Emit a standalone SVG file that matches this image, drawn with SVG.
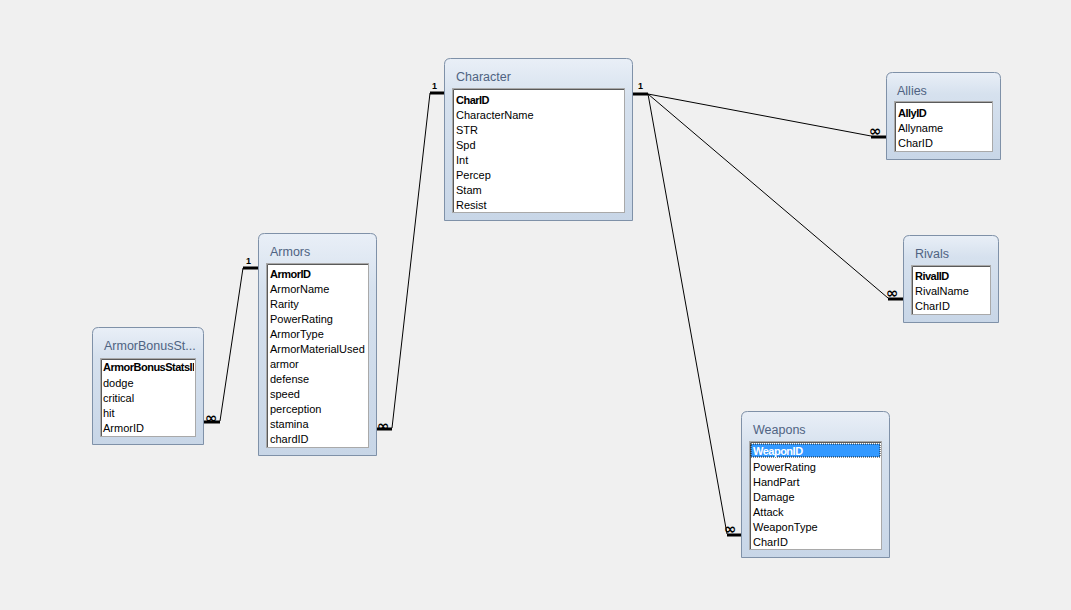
<svg xmlns="http://www.w3.org/2000/svg" width="1071" height="610" viewBox="0 0 1071 610">
<defs>
<linearGradient id="tg" x1="0" y1="0" x2="0" y2="1">
<stop offset="0" stop-color="#e9eff7"/>
<stop offset="0.25" stop-color="#d6e1ee"/>
<stop offset="1" stop-color="#c8d6e7"/>
</linearGradient>
<clipPath id="abclip"><rect x="100" y="358" width="94" height="78"/></clipPath>
</defs>
<style>
.bg{fill:#f0f0f0}
.box{fill:url(#tg);stroke:#7f91a8;stroke-width:1}
.list{fill:#ffffff;stroke:#a9a9a9;stroke-width:1}
.sunk{fill:none;stroke:#5a5a5a;stroke-width:1}
.title{font-family:"Liberation Sans",Arial,sans-serif;font-size:12.5px;fill:#4f6382}
.f{font-family:"Liberation Sans",Arial,sans-serif;font-size:11px;fill:#000}
.pk{font-weight:bold;letter-spacing:-0.5px}
.conn{stroke:#000;stroke-width:1;fill:none}
.stub{stroke:#000;stroke-width:3;fill:none}
.one{font-family:"Liberation Sans",Arial,sans-serif;font-size:9px;font-weight:bold;fill:#000}
.many{font-family:"DejaVu Sans",sans-serif;font-size:15px;font-weight:bold;fill:#000}
</style>
<rect class="bg" x="0" y="0" width="1071" height="610"/>

<g id="connectors">
<line class="conn" x1="430" y1="93" x2="392" y2="428"/>
<line class="stub" x1="430" y1="93" x2="444" y2="93"/>
<text class="one" x="432" y="89">1</text>
<line class="stub" x1="376" y1="429" x2="392" y2="429"/>
<text class="many" x="377" y="431">∞</text>

<line class="conn" x1="243" y1="268" x2="220" y2="421"/>
<line class="stub" x1="243" y1="268" x2="258" y2="268"/>
<text class="one" x="246" y="264">1</text>
<line class="stub" x1="203" y1="422" x2="220" y2="422"/>
<text class="many" x="205" y="423">∞</text>

<line class="stub" x1="632" y1="94" x2="648" y2="94"/>
<text class="one" x="638" y="89">1</text>
<line class="conn" x1="648" y1="94" x2="871" y2="136"/>
<line class="conn" x1="648" y1="94" x2="888" y2="298"/>
<line class="conn" x1="648" y1="94" x2="727" y2="534"/>
<line class="stub" x1="871" y1="137" x2="886" y2="137"/>
<text class="many" x="869" y="136">∞</text>
<line class="stub" x1="888" y1="299" x2="903" y2="299"/>
<text class="many" x="886" y="298">∞</text>
<line class="stub" x1="727" y1="535" x2="741" y2="535"/>
<text class="many" x="724" y="534">∞</text>
</g>

<g id="character">
<path class="box" d="M444.5,220.5 V64.5 Q444.5,58.5 450.5,58.5 H626.5 Q632.5,58.5 632.5,64.5 V220.5 Z"/>
<text class="title" x="456" y="81">Character</text>
<rect class="list" x="452.5" y="88.5" width="172" height="124"/>
<path class="sunk" d="M453.5,212 V89.5 H624"/>
<text class="f pk" x="456" y="104">CharID</text>
<text class="f" x="456" y="119">CharacterName</text>
<text class="f" x="456" y="134">STR</text>
<text class="f" x="456" y="149">Spd</text>
<text class="f" x="456" y="164">Int</text>
<text class="f" x="456" y="179">Percep</text>
<text class="f" x="456" y="194">Stam</text>
<text class="f" x="456" y="209">Resist</text>
</g>

<g id="allies">
<path class="box" d="M886.5,159.5 V78.5 Q886.5,72.5 892.5,72.5 H994.5 Q1000.5,72.5 1000.5,78.5 V159.5 Z"/>
<text class="title" x="897" y="95">Allies</text>
<rect class="list" x="894.5" y="101.5" width="98" height="50"/>
<path class="sunk" d="M895.5,151 V102.5 H992"/>
<text class="f pk" x="898" y="117">AllyID</text>
<text class="f" x="898" y="132">Allyname</text>
<text class="f" x="898" y="147">CharID</text>
</g>

<g id="rivals">
<path class="box" d="M903.5,322.5 V241.5 Q903.5,235.5 909.5,235.5 H992.5 Q998.5,235.5 998.5,241.5 V322.5 Z"/>
<text class="title" x="915" y="258">Rivals</text>
<rect class="list" x="911.5" y="265.5" width="79" height="49"/>
<path class="sunk" d="M912.5,314 V266.5 H990"/>
<text class="f pk" x="915" y="280">RivalID</text>
<text class="f" x="915" y="295">RivalName</text>
<text class="f" x="915" y="310">CharID</text>
</g>

<g id="weapons">
<path class="box" d="M741.5,557.5 V417.5 Q741.5,411.5 747.5,411.5 H883.5 Q889.5,411.5 889.5,417.5 V557.5 Z"/>
<text class="title" x="753" y="434">Weapons</text>
<rect class="list" x="749.5" y="441.5" width="132" height="108"/>
<path class="sunk" d="M750.5,549 V442.5 H881"/>
<rect x="751" y="444" width="129" height="13" fill="#3399ff" stroke="#1a1a1a" stroke-width="1" stroke-dasharray="1,1"/>
<text class="f pk" x="753" y="455" style="fill:#ffffff">WeaponID</text>
<text class="f" x="753" y="471">PowerRating</text>
<text class="f" x="753" y="486">HandPart</text>
<text class="f" x="753" y="501">Damage</text>
<text class="f" x="753" y="516">Attack</text>
<text class="f" x="753" y="531">WeaponType</text>
<text class="f" x="753" y="546">CharID</text>
</g>

<g id="armors">
<path class="box" d="M258.5,455.5 V239.5 Q258.5,233.5 264.5,233.5 H370.5 Q376.5,233.5 376.5,239.5 V455.5 Z"/>
<text class="title" x="270" y="256">Armors</text>
<rect class="list" x="266.5" y="263.5" width="102" height="184"/>
<path class="sunk" d="M267.5,447 V264.5 H368"/>
<text class="f pk" x="270" y="278">ArmorID</text>
<text class="f" x="270" y="293">ArmorName</text>
<text class="f" x="270" y="308">Rarity</text>
<text class="f" x="270" y="323">PowerRating</text>
<text class="f" x="270" y="338">ArmorType</text>
<text class="f" x="270" y="353">ArmorMaterialUsed</text>
<text class="f" x="270" y="368">armor</text>
<text class="f" x="270" y="383">defense</text>
<text class="f" x="270" y="398">speed</text>
<text class="f" x="270" y="413">perception</text>
<text class="f" x="270" y="428">stamina</text>
<text class="f" x="270" y="443">chardID</text>
</g>

<g id="armorbonusstats">
<path class="box" d="M92.5,444.5 V333.5 Q92.5,327.5 98.5,327.5 H197.5 Q203.5,327.5 203.5,333.5 V444.5 Z"/>
<text class="title" x="104" y="350">ArmorBonusSt...</text>
<rect class="list" x="100.5" y="358.5" width="95" height="78"/>
<path class="sunk" d="M101.5,436 V359.5 H195"/>
<text class="f pk" x="103" y="371" clip-path="url(#abclip)">ArmorBonusStatsID</text>
<text class="f" x="103" y="387">dodge</text>
<text class="f" x="103" y="402">critical</text>
<text class="f" x="103" y="417">hit</text>
<text class="f" x="103" y="432">ArmorID</text>
</g>
</svg>
